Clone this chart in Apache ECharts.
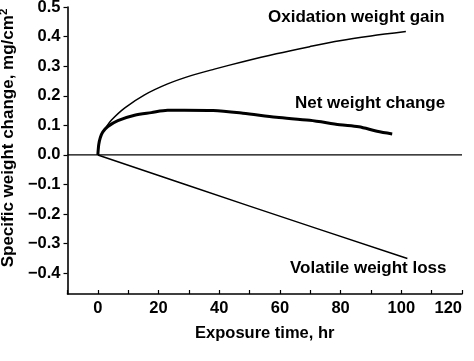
<!DOCTYPE html>
<html>
<head>
<meta charset="utf-8">
<script src="https://cdn.jsdelivr.net/npm/echarts@6/dist/echarts.min.js"></script>
<style>html,body{margin:0;padding:0;background:#fff}#c{width:474px;height:361px}</style>
</head>
<body>
<div id="c"></div>
<script>
// Data: [time (hr), specific weight change (mg/cm2)]
const oxidationGain = [[0,0],[0.3,0.035],[0.8,0.058],[1.6,0.077],[2.8,0.095],[4.5,0.118],[8.9,0.159],[15.4,0.203],[23,0.24],[30.7,0.268],[38.4,0.29],[47.8,0.315],[58.8,0.342],[69.8,0.366],[79.7,0.386],[90,0.402],[101.5,0.417]];
const netChange = [[0,0],[0.3,0.035],[0.8,0.058],[1.6,0.077],[3.3,0.096],[6.6,0.116],[12.1,0.134],[17.6,0.143],[23,0.151],[28.5,0.151],[38,0.15],[47.8,0.141],[58.8,0.127],[69.8,0.117],[79.7,0.102],[86,0.095],[92,0.08],[97,0.071]];
const volatileLoss = [[0,0],[50,-0.173],[102,-0.35]];
const zeroLine = [[-10,0],[120,0]];
const xTickValues = [-10,0,10,20,30,40,50,60,70,80,90,100,110,120];
const xLabelValues = [0,20,40,60,80,100,120];
const yValues = [-0.4,-0.3,-0.2,-0.1,0,0.1,0.2,0.3,0.4,0.5];
const seriesNames = ['Oxidation weight gain','Net weight change','Volatile weight loss'];

const FONT = 'Liberation Sans, Arial, sans-serif';
const chart = echarts.init(document.getElementById('c'), null, {renderer:'canvas'});
const lineSeries = (name, data, w) => ({
  name, type:'line', data, showSymbol:false, smooth:0.3,
  lineStyle:{color:'#000', width:w}, silent:true, animation:false
});
chart.setOption({
  animation:false,
  grid:{left:67.5, right:12, top:7, bottom:67, containLabel:false, outerBoundsMode:'none'},
  xAxis:{
    type:'value', min:-10, max:120,
    name:'Exposure time, hr', nameLocation:'middle', nameGap:31,
    nameTextStyle:{fontFamily:FONT, fontSize:16.5, fontWeight:'bold', color:'#000'},
    axisLine:{onZero:false, lineStyle:{color:'#000', width:1.6}},
    axisTick:{inside:true, length:4, customValues:xTickValues, lineStyle:{color:'#000', width:1.2}},
    axisLabel:{customValues:xLabelValues, margin:6, alignMaxLabel:'right', fontFamily:FONT, fontSize:16.5, fontWeight:'bold', color:'#000'},
    splitLine:{show:false}
  },
  yAxis:{
    type:'value', min:-0.47, max:0.5,
    name:'Specific weight change, mg/cm{sup|2}', nameLocation:'middle', nameRotate:90, nameGap:32,
    nameTextStyle:{fontFamily:FONT, fontSize:17, fontWeight:'bold', color:'#000', padding:[0,0,0,25],
      rich:{sup:{fontFamily:FONT, fontSize:11.5, fontWeight:'bold', color:'#000', padding:[0,0,9,0]}}},
    axisLine:{onZero:false, lineStyle:{color:'#000', width:1.6}},
    axisTick:{length:4, customValues:yValues, lineStyle:{color:'#000', width:1.2}},
    axisLabel:{customValues:yValues, margin:7, fontFamily:FONT, fontSize:16.5, fontWeight:'bold', color:'#000',
      formatter:v=>(Math.abs(v)<1e-9?'0.0':v.toFixed(1).replace('-','\u2212'))},
    splitLine:{show:false}
  },
  series:[
    {type:'line', data:zeroLine, showSymbol:false, lineStyle:{color:'#000', width:1.2}, silent:true},
    lineSeries(seriesNames[0], oxidationGain, 1.5),
    lineSeries(seriesNames[1], netChange, 3),
    lineSeries(seriesNames[2], volatileLoss, 1.5)
  ],
  graphic:[
    {type:'text', left:268, top:9, style:{text:seriesNames[0], font:'bold 17px '+FONT, fill:'#000'}},
    {type:'text', left:295, top:95, style:{text:seriesNames[1], font:'bold 17px '+FONT, fill:'#000'}},
    {type:'text', left:290, top:260, style:{text:seriesNames[2], font:'bold 17px '+FONT, fill:'#000'}}
  ]
});
</script>
</body>
</html>
